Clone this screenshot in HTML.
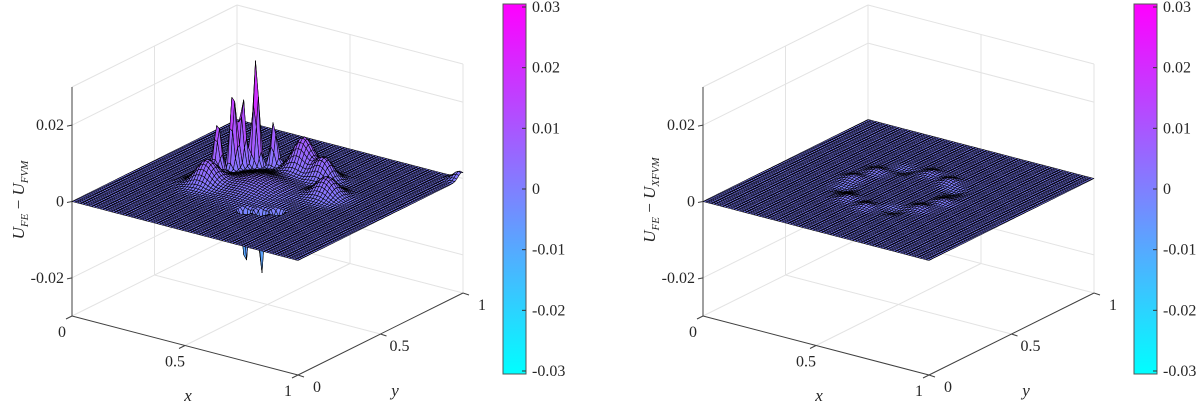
<!DOCTYPE html>
<html><head><meta charset="utf-8"><style>
html,body{margin:0;padding:0;background:#fff;}
svg, svg text{font-family:"Liberation Serif","DejaVu Serif",serif;}
svg{display:block;}
</style></head><body>
<svg id="fig" width="1200" height="404" viewBox="0 0 1200 404" xmlns="http://www.w3.org/2000/svg" font-family="Liberation Serif, serif"></svg>
<script>
// ---- data ----
const xTicks = [0, 0.5, 1];
const yTicks = [0, 0.5, 1];
const zTicks = [-0.02, 0, 0.02];
const zTickLabels = ["-0.02", "0", "0.02"];
const cbTicks = [0.03, 0.02, 0.01, 0, -0.01, -0.02, -0.03];
const cbTickLabels = ["0.03", "0.02", "0.01", "0", "-0.01", "-0.02", "-0.03"];
// left surface: error bumps (x, y, height, width)
const leftPeakX = [0.339, 0.293, 0.309, 0.280, 0.500, 0.290, 0.707, 0.610, 0.557, 0.656, 0.390, 0.610, 0.990, 0.450];
const leftPeakY = [0.650, 0.575, 0.610, 0.500, 0.720, 0.420, 0.575, 0.310, 0.287, 0.344, 0.690, 0.690, 0.990, 0.500];
const leftPeakH = [0.028, 0.021, 0.019, 0.013, 0.009, 0.006, 0.005, -0.017, -0.015, -0.012, 0.012, 0.006, 0.002, 0.003];
const leftPeakW = [0.012, 0.012, 0.012, 0.014, 0.040, 0.040, 0.040, 0.010, 0.010, 0.010, 0.012, 0.035, 0.020, 0.090];
// right surface: small ring of errors
const rightPeakX = [0.70, 0.67, 0.60, 0.50, 0.40, 0.33, 0.30, 0.33, 0.40, 0.50, 0.60, 0.67];
const rightPeakY = [0.50, 0.60, 0.67, 0.70, 0.67, 0.60, 0.50, 0.40, 0.33, 0.30, 0.33, 0.40];
const rightPeakH = [0.0008, -0.0006, 0.0009, 0.0008, -0.0006, 0.0009, 0.0009, -0.0007, 0.0008, 0.0008, -0.0006, 0.0008];
const rightPeakW = [0.025, 0.025, 0.025, 0.025, 0.025, 0.025, 0.025, 0.025, 0.025, 0.025, 0.025, 0.025];

const NS = "http://www.w3.org/2000/svg";
const svg = document.getElementById('fig');
function mk(tag, attrs, parent) {
  const e = document.createElementNS(NS, tag);
  for (const k in attrs) e.setAttribute(k, attrs[k]);
  (parent || svg).appendChild(e);
  return e;
}
const ZMIN = -0.03, ZMAX = 0.03, ZPX = 229;
const FONT = 'Liberation Serif, DejaVu Serif, serif';
function colorFor(z) {
  let t = (z - ZMIN) / (ZMAX - ZMIN); t = Math.max(0, Math.min(1, t));
  return [Math.round(255 * t), Math.round(255 * (1 - t)), 255];
}

function drawPlot(ox, px, py, ph, pw, zlabelSub, name) {
  const g = mk('g', {});
  
  
  const Ax = 72 + ox, Ay = 316;
  function P(x, y, z) {
    return [Ax + x * 226 + y * 165, Ay + x * 59 - y * 82 - (z - ZMIN) / (ZMAX - ZMIN) * ZPX];
  }
  const grid = mk('g', {stroke: '#e3e3e3', 'stroke-width': 1, fill: 'none'}, g);
  
  
  function line(a, b, par) { mk('line', {x1: a[0], y1: a[1], x2: b[0], y2: b[1]}, par); }
  const zl = zTicks.concat([ZMAX]);
  zl.forEach(z => { line(P(0, 0, z), P(0, 1, z), grid); line(P(0, 1, z), P(1, 1, z), grid); });
  line(P(0, 1, ZMIN), P(0, 1, ZMAX), grid);
  line(P(1, 1, ZMIN), P(1, 1, ZMAX), grid);
  line(P(0, 0.5, ZMIN), P(0, 0.5, ZMAX), grid);
  line(P(0.5, 1, ZMIN), P(0.5, 1, ZMAX), grid);
  line(P(0.5, 0, ZMIN), P(0.5, 1, ZMIN), grid);
  line(P(0, 0.5, ZMIN), P(1, 0.5, ZMIN), grid);
  line(P(0, 1, ZMIN), P(1, 1, ZMIN), grid);
  line(P(0, 0, ZMIN), P(0, 1, ZMIN), grid);
  const ax = mk('g', {stroke: '#404040', 'stroke-width': 1, fill: 'none'}, g);
  
  
  line(P(0, 0, ZMIN), P(0, 0, ZMAX), ax);
  line(P(0, 0, ZMIN), P(1, 0, ZMIN), ax);
  line(P(1, 0, ZMIN), P(1, 1, ZMIN), ax);
  const N = 80;
  function zf(x, y) {
    let z = 0;
    for (let i = 0; i < px.length; i++) {
      const d2 = (x - px[i]) ** 2 + (y - py[i]) ** 2;
      z += ph[i] * Math.exp(-d2 / (2 * pw[i] * pw[i]));
    }
    return z;
  }
  const Z = [];
  for (let i = 0; i <= N; i++) { Z.push([]); for (let j = 0; j <= N; j++) Z[i].push(zf(i / N, j / N)); }
  const cells = [];
  for (let i = 0; i < N; i++) for (let j = 0; j < N; j++) cells.push([i, j]);
  cells.sort((a, b) => (b[1] - b[0]) - (a[1] - a[0]));
  const sg = mk('g', {stroke: '#000', 'stroke-width': 0.55, 'stroke-linejoin': 'round'}, g);
  
  
  cells.forEach(([i, j]) => {
    const x0 = i / N, x1 = (i + 1) / N, y0 = j / N, y1 = (j + 1) / N;
    const pts = [P(x0, y0, Z[i][j]), P(x1, y0, Z[i + 1][j]), P(x1, y1, Z[i + 1][j + 1]), P(x0, y1, Z[i][j + 1])];
    const zm = (Z[i][j] + Z[i + 1][j] + Z[i + 1][j + 1] + Z[i][j + 1]) / 4;
    const c = colorFor(zm);
    mk('polygon', {points: pts.map(p => p[0].toFixed(1) + ',' + p[1].toFixed(1)).join(' '), fill: 'rgb(' + c.join(',') + ')'}, sg);
  });
  const tl = mk('g', {'font-size': 16, fill: '#262626', 'font-family': FONT}, g);
  
  
  zTicks.forEach((z, k) => {
    const p = P(0, 0, z);
    line([p[0], p[1]], [p[0] - 5, p[1] + 1], ax);
    const t = mk('text', {x: p[0] - 8, y: p[1] + 5, 'text-anchor': 'end'}, tl);
    t.textContent = zTickLabels[k];
  });
  xTicks.forEach(x => {
    const p = P(x, 0, ZMIN);
    line(p, [p[0] - 6, p[1] + 3], ax);
    const t = mk('text', {x: p[0] - 10, y: p[1] + 21, 'text-anchor': 'middle'}, tl);
    t.textContent = String(x);
  });
  yTicks.forEach(y => {
    const p = P(1, y, ZMIN);
    line(p, [p[0] + 6, p[1] + 2], ax);
    const t = mk('text', {x: p[0] + 19, y: p[1] + 17, 'text-anchor': 'middle'}, tl);
    t.textContent = String(y);
  });
  const xl = mk('text', {x: 188 + ox, y: 401, 'font-size': 17, 'font-style': 'italic', 'text-anchor': 'middle', fill: '#262626', 'font-family': FONT}, g);
  xl.textContent = 'x';
  
  
  const yl = mk('text', {x: 395 + ox, y: 396, 'font-size': 17, 'font-style': 'italic', 'text-anchor': 'middle', fill: '#262626', 'font-family': FONT}, g);
  yl.textContent = 'y';
  
  
  const zt = mk('text', {transform: 'translate(' + (24 + ox) + ',200) rotate(-90)', 'font-size': 17, 'font-style': 'italic', 'text-anchor': 'middle', fill: '#262626', 'font-family': FONT}, g);
  
  
  zt.innerHTML = 'U<tspan font-size="11" dy="4">FE</tspan><tspan dy="-4" font-style="normal"> − </tspan><tspan>U</tspan><tspan font-size="11" dy="4">' + zlabelSub + '</tspan>';
  const cb = mk('g', {'font-family': FONT}, g);
  
  
  const gid = 'cool' + ox;
  const defs = mk('defs', {}, cb);
  const lg = mk('linearGradient', {id: gid, x1: 0, y1: 1, x2: 0, y2: 0}, defs);
  mk('stop', {offset: 0, 'stop-color': 'rgb(0,255,255)'}, lg);
  mk('stop', {offset: 1, 'stop-color': 'rgb(255,0,255)'}, lg);
  const cx = 503 + ox, cy0 = 4, cy1 = 374;
  mk('rect', {x: cx, y: cy0, width: 23, height: cy1 - cy0, fill: 'url(#' + gid + ')', stroke: '#555', 'stroke-width': 1}, cb);
  cbTicks.forEach((v, k) => {
    const y = cy0 + 3 + (ZMAX - v) / (ZMAX - ZMIN) * (cy1 - cy0 - 6);
    mk('line', {x1: cx + 19, y1: y, x2: cx + 23, y2: y, stroke: '#333'}, cb);
    const t = mk('text', {x: cx + 29, y: y + 5, 'font-size': 16, fill: '#262626'}, cb);
    t.textContent = cbTickLabels[k];
  });
}
drawPlot(0, leftPeakX, leftPeakY, leftPeakH, leftPeakW, 'FVM', 'left-plot-fvm');
drawPlot(631, rightPeakX, rightPeakY, rightPeakH, rightPeakW, 'XFVM', 'right-plot-xfvm');
</script>
</body></html>
